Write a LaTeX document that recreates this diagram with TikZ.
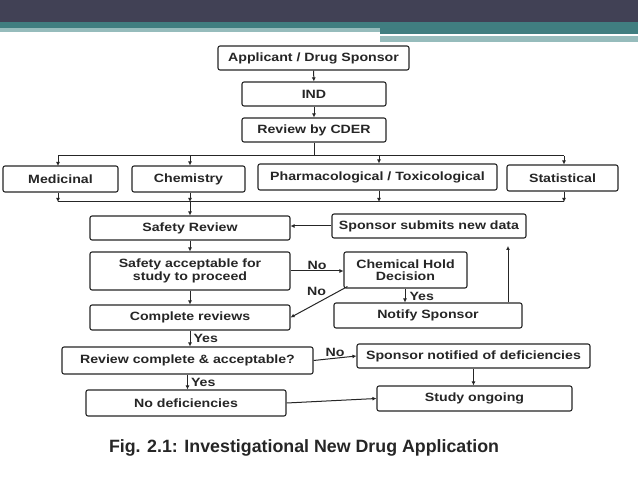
\documentclass[tikz,border=0pt]{standalone}
\usepackage{fontspec}
\setmainfont{Liberation Sans}
\newfontfamily\widefont[FakeStretch=1.18]{Liberation Sans}
\usetikzlibrary{arrows.meta}
\begin{document}
\begin{tikzpicture}[x=1pt,y=-1pt,
  bx/.style={draw=black!85,line width=1.1pt,rounded corners=2pt,font=\widefont\fontsize{12}{12.5}\selectfont\bfseries,text=black!85,align=center,inner sep=0pt},
  ar/.style={line width=1pt,draw=black!85,-{Latex[length=4pt,width=4pt]}},
  ln/.style={line width=1pt,draw=black!85},
  lb/.style={font=\widefont\fontsize{12}{12.5}\selectfont\bfseries,text=black!85,inner sep=1pt}]
\useasboundingbox (0,0) rectangle (638,478);
\fill[white] (0,0) rectangle (638,478);
% top bar
\fill[fill={rgb,255:red,65;green,65;blue,85}] (0,0) rectangle (638,22);
\fill[fill={rgb,255:red,64;green,126;blue,128}] (0,22) rectangle (638,28);
\fill[fill={rgb,255:red,150;green,188;blue,188}] (0,28) rectangle (380,32);
\fill[fill={rgb,255:red,64;green,126;blue,128}] (380,28) rectangle (638,34);
\fill[fill={rgb,255:red,150;green,188;blue,188}] (380,36) rectangle (638,42);
\draw[white,line width=1pt] (380,35) -- (592,35);
% boxes
\node[bx,minimum width=191,minimum height=24] (app) at (313.5,58) {Applicant / Drug Sponsor};
\node[bx,minimum width=144,minimum height=24] (ind) at (314,94) {IND};
\node[bx,minimum width=144,minimum height=24] (cder) at (314,130) {Review by CDER};
\node[bx,minimum width=115,minimum height=26] (med) at (60.5,179) {Medicinal};
\node[bx,minimum width=113,minimum height=26] (chem) at (188.5,179) {Chemistry};
\node[bx,minimum width=239,minimum height=26] (pharm) at (377.5,177) {Pharmacological / Toxicological};
\node[bx,minimum width=111,minimum height=26] (stat) at (562.5,178) {Statistical};
\node[bx,minimum width=200,minimum height=24] (safe) at (190,228) {Safety Review};
\node[bx,minimum width=194,minimum height=24] (subm) at (429,226) {Sponsor submits new data};
\node[bx,minimum width=200,minimum height=38] (acc) at (190,271) {Safety acceptable for\\study to proceed};
\node[bx,minimum width=123,minimum height=36] (hold) at (405.5,270) {Chemical Hold\\Decision};
\node[bx,minimum width=200,minimum height=25] (comp) at (190,317.5) {Complete reviews};
\node[bx,minimum width=188,minimum height=25] (noti) at (428,315.5) {Notify Sponsor};
\node[bx,minimum width=251,minimum height=27] (rca) at (187.5,360.5) {Review complete \& acceptable?};
\node[bx,minimum width=233,minimum height=24] (defi) at (473.5,356) {Sponsor notified of deficiencies};
\node[bx,minimum width=200,minimum height=26] (nod) at (186,403) {No deficiencies};
\node[bx,minimum width=195,minimum height=25] (ong) at (474.5,398.5) {Study ongoing};
\coordinate (up) at (508,246);
% connectors
\draw[ar] (app) -- (ind);
\draw[ar] (ind) -- (cder);
\draw[ln] (cder.south) -- (314,156);
\draw[ln] (58,156) -- (564,156);
\draw[ar] (58,156) -- (58,166);
\draw[ar] (190,156) -- (chem.north -| 190,0);
\draw[ar] (379,156) -- (pharm.north -| 379,0);
\draw[ar] (564,156) -- (stat.north -| 564,0);
\draw[ln] (58,202) -- (564,202);
\draw[ar] (med.south -| 58,0) -- (58,202);
\draw[ar] (chem.south -| 190,0) -- (190,202);
\draw[ar] (pharm.south -| 379,0) -- (379,202);
\draw[ar] (stat.south -| 564,0) -- (564,202);
\draw[ar] (190,202) -- (safe.north);
\draw[ar] (subm.west) -- (safe.east |- subm.west);
\draw[ar] (safe) -- (acc);
\draw[ar] (acc.east) -- node[lb,above]{No} (hold.west |- acc.east);
\draw[ar] ([xshift=4pt,yshift=2pt]hold.south west) -- node[lb,above left,pos=0.35]{No} (comp.east);
\draw[ar] (acc) -- (comp);
\draw[ar] (hold.south -| 405,0) -- node[lb,right,xshift=3pt,pos=0.6]{Yes} (noti.north -| 405,0);
\draw[ar] (noti.north -| up) -- (up);
\draw[ar] (comp.south) -- node[lb,right,xshift=2pt]{Yes} (comp.south |- rca.north);
\draw[ar] (rca.east) -- node[lb,above]{No} (defi.west);
\draw[ar] (rca.south) -- node[lb,right,xshift=2pt]{Yes} (nod.north -| rca.south);
\draw[ar] (defi.south) -- (defi.south |- ong.north);
\draw[ar] (nod.east) -- (ong.west);
\node[font=\fontsize{17.8}{19}\selectfont\bfseries,text=black!85] (cap) at (304,448) {Fig. 2.1: Investigational New Drug Application};
\end{tikzpicture}
\end{document}
